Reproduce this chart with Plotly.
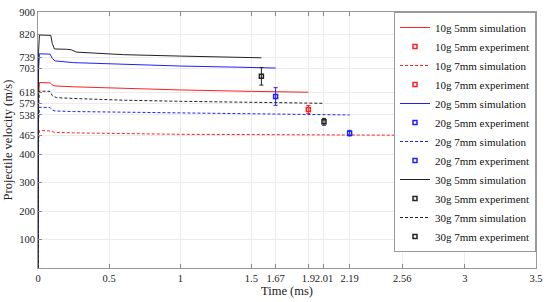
import plotly.graph_objects as go

# ---- simulation curves (time in ms, velocity in m/s) ----
t_10g5 = [0, 0.004, 0.01, 0.05, 0.085, 0.1, 0.12, 0.25, 0.6, 1.0, 1.5, 1.9]
v_10g5 = [0, 600, 652, 652, 651, 644, 640, 637, 631, 626, 621, 618]

t_10g7 = [0, 0.004, 0.01, 0.05, 0.085, 0.1, 0.12, 0.25, 0.6, 1.0, 2.0, 3.0, 3.5]
v_10g7 = [0, 440, 483, 483, 482, 479, 477, 475, 472, 470, 468, 466, 465]

t_20g5 = [0, 0.004, 0.01, 0.05, 0.085, 0.1, 0.12, 0.25, 0.6, 1.0, 1.4, 1.67]
v_20g5 = [0, 700, 753, 753, 752, 737, 728, 722, 716, 710, 706, 703]

t_20g7 = [0, 0.004, 0.01, 0.05, 0.085, 0.1, 0.12, 0.25, 0.6, 1.0, 1.6, 2.19]
v_20g7 = [0, 520, 565, 565, 564, 556, 552, 550, 548, 545, 541, 538]

t_30g5 = [0, 0.004, 0.01, 0.05, 0.09, 0.1, 0.115, 0.2, 0.235, 0.27, 0.6, 1.0, 1.3, 1.57]
v_30g5 = [0, 760, 819, 819, 818, 790, 770, 769, 767, 759, 750, 745, 741, 739]

t_30g7 = [0, 0.004, 0.01, 0.05, 0.085, 0.1, 0.13, 0.25, 0.6, 1.0, 1.5, 2.01]
v_30g7 = [0, 570, 622, 622, 621, 606, 599, 596, 590, 586, 582, 579]

# ---- experiments ----
exp_t = [1.9, 2.56, 1.67, 2.19, 1.57, 2.01]
exp_v = [557, 364, 603, 474, 674, 514]
exp_err = [14, 17, 31, 10, 31, 12]

labels = ["10g 5mm", "10g 7mm", "20g 5mm", "20g 7mm", "30g 5mm", "30g 7mm"]
colors = ["#ff2020", "#ff2020", "#2020ff", "#2020ff", "#222222", "#222222"]
dashes = ["solid", "3px,2px", "solid", "3px,2px", "solid", "3px,2px"]
sims = [(t_10g5, v_10g5), (t_10g7, v_10g7), (t_20g5, v_20g5),
        (t_20g7, v_20g7), (t_30g5, v_30g5), (t_30g7, v_30g7)]

x_ticks = [0, 0.5, 1, 1.5, 1.67, 1.9, 2.01, 2.19, 2.56, 3, 3.5]
x_ticktext = ["0", "0.5", "1", "1.5", "1.67", "1.9", "2.01", "2.19", "2.56", "3", "3.5"]
y_ticks = [100, 200, 300, 400, 465, 538, 579, 618, 703, 739, 820, 900]

fig = go.Figure()
for i, lab in enumerate(labels):
    t, v = sims[i]
    fig.add_trace(go.Scatter(
        x=t, y=v, mode="lines", name=f"{lab} simulation",
        line=dict(color=colors[i], width=1, dash=dashes[i]),
    ))
    fig.add_trace(go.Scatter(
        x=[exp_t[i]], y=[exp_v[i]], mode="markers", name=f"{lab} experiment",
        marker=dict(color=colors[i], symbol="square-open", size=4, line=dict(width=1.5)),
        error_y=dict(type="data", array=[exp_err[i]], visible=True,
                     color=colors[i], thickness=1, width=2),
    ))

font = "'Liberation Serif', 'Times New Roman', Times, serif"
fig.update_layout(
    width=550, height=302,
    margin=dict(l=36, r=9, t=7, b=34),
    paper_bgcolor="white", plot_bgcolor="white",
    font=dict(family=font, size=11, color="#222"),
    legend=dict(x=1, y=1, xanchor="right", yanchor="top",
                bgcolor="white", bordercolor="#999", borderwidth=1,
                font=dict(family=font, size=11, color="#111"),
                tracegroupgap=0, itemwidth=30),
    showlegend=True,
)
fig.update_xaxes(
    range=[0, 3.5], tickmode="array", tickvals=x_ticks, ticktext=x_ticktext,
    tickangle=0,
    ticks="inside", ticklen=4, tickcolor="#888", mirror="ticks",
    showline=True, linecolor="#999", linewidth=1,
    showgrid=True, gridcolor="#ececec", gridwidth=1, zeroline=False,
    title=dict(text="Time (ms)", standoff=1, font=dict(family=font, size=12.5)),
    tickfont=dict(family=font, size=10.5),
)
fig.update_yaxes(
    range=[0, 900], tickmode="array", tickvals=y_ticks,
    ticks="inside", ticklen=4, tickcolor="#888", mirror="ticks",
    showline=True, linecolor="#999", linewidth=1,
    showgrid=True, gridcolor="#ececec", gridwidth=1, zeroline=False,
    title=dict(text="Projectile velocity (m/s)", standoff=3, font=dict(family=font, size=12.5)),
    tickfont=dict(family=font, size=10.5),
)

fig.write_html("out.html", config={"displayModeBar": False},
               post_script="document.body.style.margin='0';")
